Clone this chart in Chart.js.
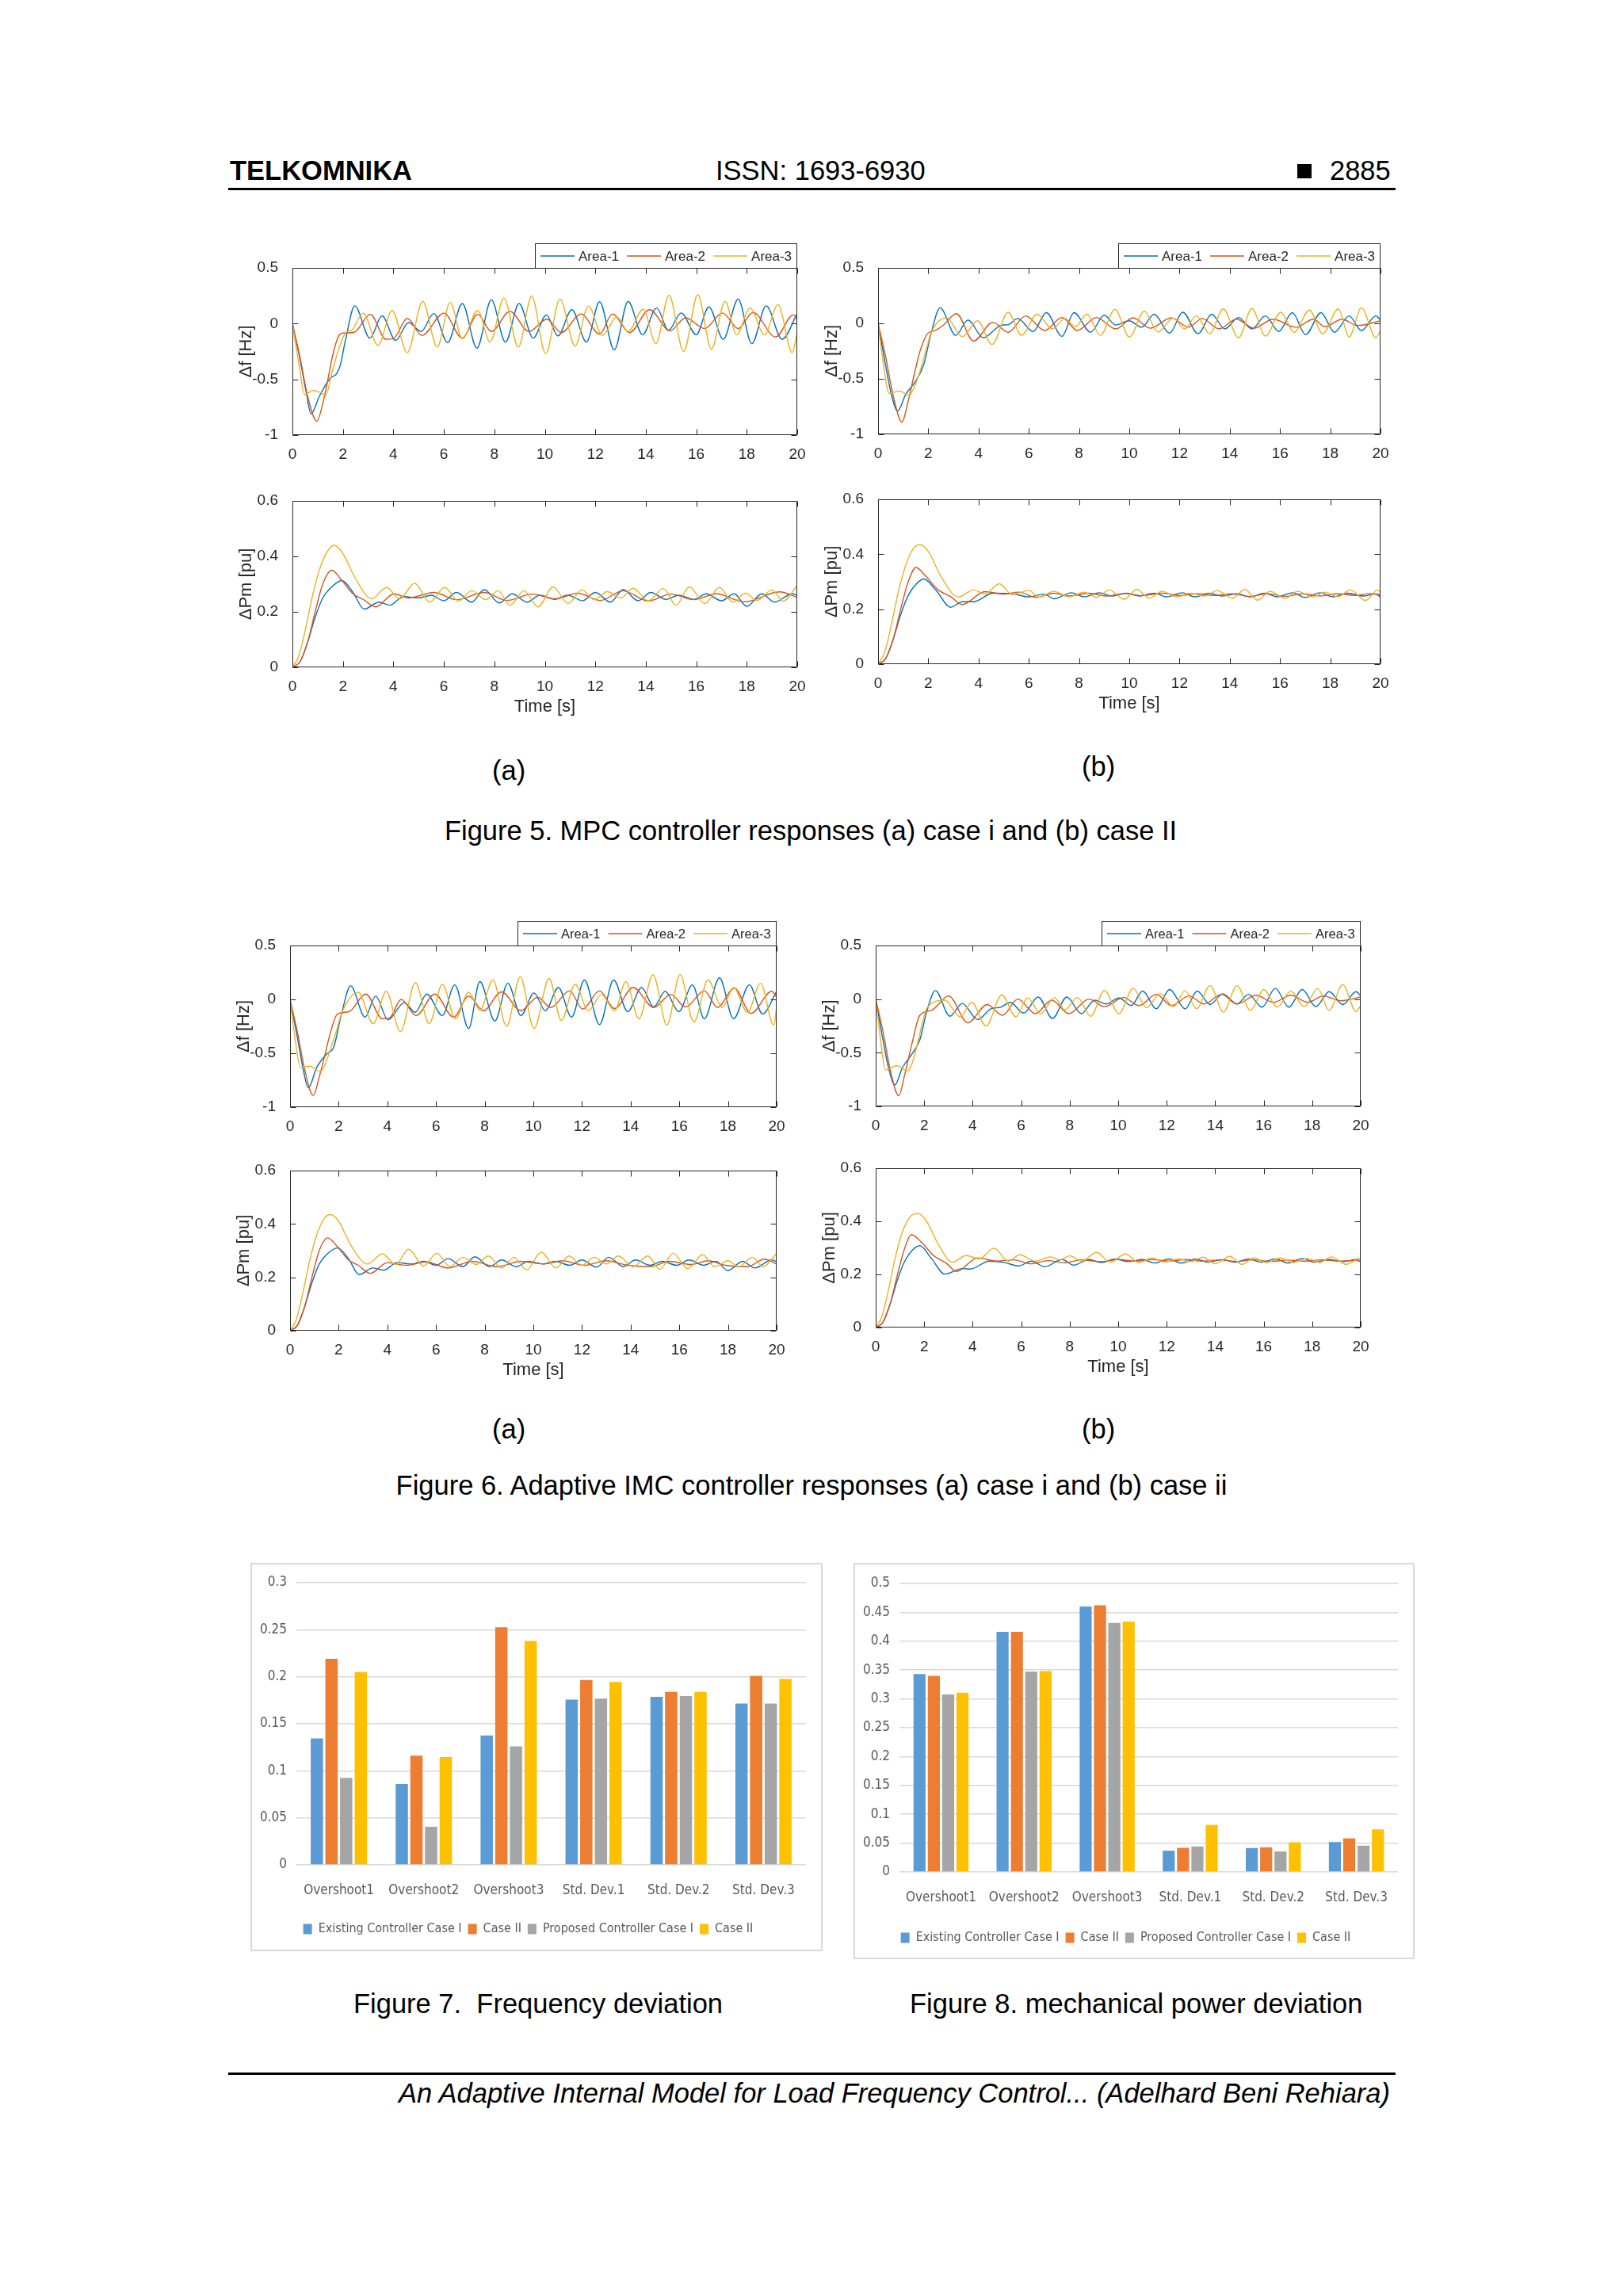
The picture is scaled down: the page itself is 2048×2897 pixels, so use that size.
<!DOCTYPE html>
<html>
<head>
<meta charset="utf-8">
<script src="https://cdn.jsdelivr.net/npm/chart.js@4.4.1/dist/chart.umd.min.js"></script>
<style>
  html, body { margin: 0; padding: 0; background: #fff; }
  #page { position: relative; width: 2048px; height: 2897px; background: #fff; overflow: hidden;
          font-family: 'Liberation Sans', Arial, Helvetica, sans-serif; color: #000; }
  .t { position: absolute; font-size: 34.5px; line-height: 1; white-space: pre; }
  .c { transform: translateX(-50%); }
  .rule { position: absolute; background: #000; }
  .frame { position: absolute; box-sizing: border-box; border: 2px solid #d9d9d9; }
</style>
</head>
<body>
<div id="page">
  <div class="t" style="left:290px;top:198px;font-weight:bold">TELKOMNIKA</div>
  <div class="t" style="left:903px;top:198px">ISSN: 1693-6930</div>
  <div class="rule" style="left:1637px;top:207px;width:18px;height:18px"></div>
  <div class="t" style="left:1678px;top:198px">2885</div>
  <div class="rule" style="left:288px;top:237px;width:1473px;height:3px"></div>

  <div class="t" style="left:621px;top:955px">(a)</div>
  <div class="t" style="left:1365px;top:950px">(b)</div>
  <div class="t c" style="left:1023px;top:1031px">Figure 5. MPC controller responses (a) case i and (b) case II</div>

  <div class="t" style="left:621px;top:1786px">(a)</div>
  <div class="t" style="left:1365px;top:1786px">(b)</div>
  <div class="t c" style="left:1024px;top:1857px">Figure 6. Adaptive IMC controller responses (a) case i and (b) case ii</div>

  <div class="t" style="left:446px;top:2511px">Figure 7.  Frequency deviation</div>
  <div class="t" style="left:1148px;top:2511px">Figure 8. mechanical power deviation</div>

  <div class="rule" style="left:288px;top:2615px;width:1473px;height:3px"></div>
  <div class="t" style="right:294px;top:2624px;font-style:italic">An Adaptive Internal Model for Load Frequency Control... (Adelhard Beni Rehiara)</div>
</div>
<script>
// ---- data: [time s, value] ----
const areaNames = ['Area-1', 'Area-2', 'Area-3'];

// Figure 5 (a) - MPC case i
const f5a_df_area1 = [[0,0],[0.3,-0.32],[0.55,-0.62],[0.74,-0.81],[1.07,-0.65],[1.5,-0.49],[1.75,-0.45],[1.9,-0.37],[2.1,-0.15],[2.47,0.16],[3.07,-0.13],[3.55,0.07],[4.09,-0.15],[4.6,0.01],[5.1,-0.07],[5.6,0.09],[6.15,-0.17],[6.73,0.18],[7.31,-0.22],[7.88,0.215],[8.44,-0.165],[8.98,0.18],[9.54,-0.13],[10.06,0.078],[10.52,-0.11],[11.07,0.125],[11.65,-0.165],[12.17,0.196],[12.75,-0.236],[13.3,0.2],[13.87,-0.1],[14.43,0.14],[14.9,-0.06],[15.4,0.096],[16.0,-0.1],[16.5,0.15],[17.07,-0.14],[17.66,0.22],[18.2,-0.18],[18.77,0.16],[19.4,-0.14],[20,0.09]];
const f5a_df_area2 = [[0,0],[0.3,-0.3],[0.6,-0.65],[0.97,-0.875],[1.2,-0.72],[1.45,-0.45],[1.6,-0.28],[1.83,-0.11],[2.0,-0.085],[2.44,-0.078],[3.09,0.083],[3.7,-0.14],[4.0,-0.135],[4.55,0.047],[5.13,-0.106],[6.0,0.094],[6.73,-0.13],[7.34,0.083],[7.88,-0.07],[8.62,0.11],[9.37,-0.07],[10.08,0.04],[10.65,-0.08],[11.44,0.087],[12.17,-0.094],[12.68,0.087],[13.36,-0.08],[14.15,0.125],[14.96,-0.064],[15.58,0.052],[16.33,-0.044],[17.04,0.096],[17.66,-0.044],[18.25,0.1],[19.14,-0.12],[19.85,0.08],[20,0.03]];
const f5a_df_area3 = [[0,0],[0.25,-0.35],[0.49,-0.637],[0.8,-0.6],[1.0,-0.61],[1.2,-0.63],[1.3,-0.65],[1.6,-0.41],[1.86,-0.21],[2.12,-0.08],[2.34,-0.06],[2.81,0.094],[3.39,-0.196],[3.95,0.118],[4.55,-0.26],[5.16,0.2],[5.74,-0.21],[6.25,0.19],[6.73,-0.134],[7.34,0.118],[7.83,-0.165],[8.38,0.229],[8.95,-0.21],[9.48,0.248],[10.03,-0.27],[10.6,0.22],[11.2,-0.2],[11.73,0.158],[12.28,-0.106],[12.85,0.059],[13.3,-0.07],[13.9,0.13],[14.4,-0.18],[14.92,0.255],[15.5,-0.25],[16.06,0.26],[16.6,-0.23],[17.14,0.2],[17.6,-0.1],[18.13,0.14],[18.7,-0.1],[19.24,0.17],[19.8,-0.26],[20,-0.08]];
const f5a_pm_area1 = [[0,0],[0.3,0.02],[0.6,0.09],[0.9,0.18],[1.2,0.25],[1.5,0.285],[1.96,0.313],[2.4,0.27],[2.84,0.21],[3.44,0.235],[3.85,0.224],[4.4,0.255],[5.0,0.25],[5.5,0.26],[6.0,0.24],[6.5,0.27],[7.1,0.235],[7.6,0.28],[8.2,0.232],[8.7,0.265],[9.3,0.235],[9.8,0.26],[10.4,0.245],[10.9,0.26],[11.5,0.24],[12.0,0.27],[12.6,0.235],[13.1,0.28],[13.7,0.24],[14.2,0.27],[14.8,0.245],[15.3,0.26],[15.9,0.245],[16.4,0.265],[17.0,0.24],[17.5,0.265],[18.0,0.22],[18.6,0.265],[19.1,0.235],[19.8,0.265],[20,0.26]];
const f5a_pm_area2 = [[0,0],[0.3,0.02],[0.6,0.09],[0.9,0.2],[1.2,0.3],[1.56,0.35],[1.9,0.32],[2.4,0.265],[2.8,0.245],[3.29,0.218],[4.03,0.265],[4.6,0.25],[5.6,0.27],[6.5,0.244],[7.6,0.27],[8.5,0.241],[9.5,0.264],[10.4,0.247],[11.3,0.267],[12.2,0.241],[13.1,0.276],[14.1,0.239],[15.0,0.264],[15.9,0.244],[16.8,0.265],[17.9,0.236],[19.3,0.272],[20,0.252]];
const f5a_pm_area3 = [[0,0],[0.25,0.04],[0.5,0.13],[0.8,0.26],[1.1,0.36],[1.4,0.42],[1.66,0.44],[2.0,0.41],[2.5,0.32],[3.14,0.247],[3.73,0.288],[4.25,0.247],[4.84,0.303],[5.44,0.235],[6.03,0.288],[6.58,0.239],[7.1,0.276],[7.66,0.244],[8.15,0.276],[8.62,0.224],[9.18,0.276],[9.73,0.218],[10.33,0.29],[10.92,0.23],[11.47,0.279],[11.96,0.244],[12.47,0.273],[13.0,0.25],[13.5,0.285],[14.1,0.24],[14.7,0.284],[15.2,0.224],[15.73,0.29],[16.33,0.23],[16.92,0.288],[17.44,0.235],[17.96,0.267],[18.4,0.241],[19.0,0.279],[19.44,0.239],[20,0.294]];

// Figure 5 (b) - MPC case II
const f5b_df_area1 = [[0,0],[0.3,-0.38],[0.55,-0.66],[0.78,-0.79],[1.1,-0.64],[1.5,-0.52],[1.82,-0.37],[2.1,-0.1],[2.47,0.14],[3.09,-0.108],[3.58,0.03],[4.19,-0.13],[4.87,-0.02],[5.2,-0.01],[5.56,0.044],[6.17,-0.073],[6.7,0.096],[7.32,-0.117],[7.8,0.096],[8.46,-0.08],[9.0,0.073],[9.46,-0.015],[9.99,0.023],[10.5,-0.035],[10.99,0.082],[11.6,-0.088],[12.13,0.1],[12.74,-0.094],[13.28,0.082],[13.8,-0.05],[14.35,0.053],[14.88,-0.05],[15.42,0.067],[15.95,-0.073],[16.49,0.096],[17.02,-0.102],[17.63,0.096],[18.17,-0.08],[18.75,0.067],[19.24,-0.064],[19.82,0.067],[20,0.03]];
const f5b_df_area2 = [[0,0],[0.3,-0.3],[0.6,-0.65],[0.95,-0.89],[1.2,-0.7],[1.45,-0.45],[1.67,-0.25],[1.97,-0.094],[2.28,-0.064],[2.58,-0.02],[3.12,0.088],[3.8,-0.16],[4.57,0.01],[5.18,-0.08],[5.87,0.067],[6.63,-0.064],[7.32,0.053],[7.93,-0.064],[8.69,0.053],[9.46,-0.05],[10.15,0.05],[10.83,-0.044],[11.67,0.05],[12.36,-0.035],[12.9,0.044],[13.58,-0.05],[14.27,0.038],[14.96,-0.044],[15.72,0.038],[16.64,-0.035],[17.33,0.038],[17.79,-0.03],[18.47,0.038],[19.08,-0.02],[20,0.023]];
const f5b_df_area3 = [[0,0],[0.2,-0.35],[0.44,-0.63],[0.86,-0.61],[1.24,-0.65],[1.45,-0.57],[1.67,-0.43],[1.9,-0.25],[2.12,-0.08],[2.73,0.05],[3.35,-0.12],[3.96,0.023],[4.54,-0.19],[5.18,0.1],[5.71,-0.108],[6.33,0.082],[6.94,-0.05],[7.44,0.044],[7.85,-0.03],[8.31,0.082],[8.85,-0.108],[9.43,0.126],[10.0,-0.123],[10.6,0.11],[11.14,-0.079],[11.75,0.047],[12.2,-0.05],[12.67,0.067],[13.2,-0.094],[13.74,0.13],[14.35,-0.13],[14.88,0.134],[15.42,-0.114],[16.03,0.1],[16.56,-0.08],[17.17,0.12],[17.7,-0.094],[18.32,0.13],[18.75,-0.123],[19.24,0.14],[19.82,-0.13],[20,-0.064]];
const f5b_pm_area1 = [[0,0],[0.3,0.02],[0.6,0.09],[0.9,0.18],[1.2,0.25],[1.5,0.29],[1.82,0.31],[2.3,0.27],[2.89,0.207],[3.35,0.227],[3.8,0.227],[4.57,0.258],[5.4,0.255],[6.0,0.245],[6.6,0.255],[7.0,0.238],[7.7,0.26],[8.2,0.245],[8.8,0.26],[9.3,0.248],[9.9,0.258],[10.4,0.248],[11.0,0.258],[11.5,0.245],[12.1,0.26],[12.6,0.245],[13.2,0.258],[13.7,0.248],[14.3,0.256],[14.8,0.245],[15.4,0.258],[15.9,0.245],[16.5,0.26],[17.0,0.243],[17.6,0.26],[18.1,0.245],[18.7,0.258],[19.3,0.248],[19.8,0.255],[20,0.245]];
const f5b_pm_area2 = [[0,0],[0.3,0.02],[0.6,0.09],[0.9,0.2],[1.2,0.3],[1.51,0.352],[1.9,0.32],[2.4,0.27],[2.9,0.245],[3.35,0.217],[4.26,0.264],[5.0,0.255],[5.6,0.262],[6.3,0.243],[7.0,0.258],[7.6,0.248],[8.4,0.258],[9.1,0.248],[9.8,0.257],[10.5,0.25],[11.3,0.258],[12.0,0.25],[12.7,0.256],[13.4,0.25],[14.1,0.256],[14.8,0.247],[15.5,0.256],[16.2,0.247],[16.9,0.256],[17.6,0.248],[18.3,0.256],[19.0,0.25],[19.6,0.257],[20,0.253]];
const f5b_pm_area3 = [[0,0],[0.25,0.04],[0.5,0.13],[0.8,0.26],[1.1,0.36],[1.4,0.42],[1.67,0.435],[2.0,0.41],[2.5,0.32],[3.19,0.244],[3.8,0.27],[4.26,0.256],[4.83,0.293],[5.33,0.254],[6.02,0.268],[6.4,0.244],[7.0,0.265],[7.6,0.245],[8.2,0.262],[8.7,0.243],[9.2,0.27],[9.8,0.236],[10.3,0.272],[10.8,0.24],[11.3,0.265],[11.9,0.245],[12.4,0.258],[13.0,0.248],[13.5,0.268],[14.1,0.24],[14.6,0.272],[15.1,0.233],[15.6,0.265],[16.2,0.24],[16.7,0.265],[17.3,0.245],[17.8,0.262],[18.3,0.245],[18.8,0.27],[19.4,0.232],[19.9,0.27],[20,0.262]];

// Figure 6 (a) - adaptive IMC case i
const f6a_df_area1 = [[0,0],[0.3,-0.35],[0.55,-0.66],[0.75,-0.82],[1.1,-0.63],[1.49,-0.51],[1.8,-0.44],[2.1,-0.15],[2.49,0.126],[3.08,-0.165],[3.52,0.03],[4.03,-0.19],[4.69,-0.03],[5.15,-0.12],[5.62,0.05],[6.26,-0.15],[6.77,0.135],[7.34,-0.27],[7.8,0.165],[8.42,-0.2],[8.95,0.15],[9.49,-0.15],[10.03,0.06],[10.49,-0.105],[11.03,0.11],[11.57,-0.165],[12.1,0.18],[12.72,-0.234],[13.3,0.18],[13.88,-0.114],[14.45,0.11],[14.95,-0.07],[15.42,0.075],[15.98,-0.114],[16.54,0.135],[17.03,-0.18],[17.65,0.2],[18.23,-0.18],[18.88,0.135],[19.42,-0.135],[20,0.075]];
const f6a_df_area2 = [[0,0],[0.3,-0.3],[0.6,-0.65],[0.95,-0.89],[1.2,-0.72],[1.45,-0.5],[1.65,-0.315],[1.95,-0.135],[2.42,-0.114],[3.11,0.05],[3.8,-0.18],[4.1,-0.17],[4.57,0.0],[5.18,-0.15],[5.95,0.05],[6.72,-0.165],[7.34,0.03],[7.95,-0.105],[8.69,0.07],[9.49,-0.105],[10.18,0.02],[10.72,-0.075],[11.49,0.08],[12.03,-0.09],[12.72,0.08],[13.34,-0.085],[14.1,0.11],[14.95,-0.075],[15.65,0.045],[16.26,-0.07],[17.03,0.08],[17.57,-0.075],[18.26,0.105],[18.95,-0.13],[19.8,0.075],[20,0.02]];
const f6a_df_area3 = [[0,0],[0.2,-0.35],[0.42,-0.63],[0.8,-0.62],[1.26,-0.67],[1.45,-0.6],[1.65,-0.47],[1.9,-0.3],[2.11,-0.135],[2.8,0.066],[3.42,-0.225],[3.95,0.075],[4.54,-0.3],[5.15,0.156],[5.72,-0.225],[6.26,0.14],[6.8,-0.18],[7.34,0.066],[7.8,-0.1],[8.34,0.18],[8.9,-0.25],[9.46,0.21],[10.03,-0.27],[10.65,0.195],[11.15,-0.195],[11.72,0.14],[12.26,-0.105],[12.8,0.045],[13.34,-0.105],[13.8,0.165],[14.34,-0.18],[14.92,0.23],[15.49,-0.24],[16.03,0.23],[16.6,-0.21],[17.18,0.18],[17.77,-0.075],[18.23,0.11],[18.8,-0.12],[19.34,0.15],[19.88,-0.24],[20,-0.075]];
const f6a_pm_area1 = [[0,0],[0.3,0.02],[0.6,0.09],[0.9,0.18],[1.2,0.25],[1.5,0.285],[1.95,0.31],[2.4,0.27],[2.84,0.21],[3.4,0.235],[3.85,0.227],[4.4,0.255],[5.0,0.25],[5.5,0.26],[6.0,0.245],[6.5,0.27],[7.1,0.24],[7.6,0.277],[8.2,0.24],[8.7,0.265],[9.3,0.24],[9.8,0.26],[10.4,0.25],[10.9,0.26],[11.5,0.245],[12.0,0.265],[12.6,0.238],[13.1,0.275],[13.7,0.24],[14.2,0.265],[14.8,0.245],[15.3,0.26],[15.9,0.245],[16.4,0.265],[17.0,0.245],[17.5,0.26],[18.0,0.225],[18.6,0.26],[19.1,0.235],[19.8,0.265],[20,0.258]];
const f6a_pm_area2 = [[0,0],[0.3,0.02],[0.6,0.09],[0.9,0.2],[1.2,0.3],[1.55,0.348],[1.9,0.32],[2.4,0.265],[2.8,0.245],[3.3,0.215],[4.0,0.255],[4.8,0.245],[5.6,0.258],[6.5,0.235],[7.5,0.26],[8.5,0.24],[9.5,0.26],[10.4,0.25],[11.2,0.262],[12.1,0.245],[13.0,0.262],[13.9,0.245],[14.8,0.24],[15.6,0.26],[16.5,0.248],[17.2,0.262],[17.9,0.245],[18.8,0.24],[19.5,0.268],[20,0.25]];
const f6a_pm_area3 = [[0,0],[0.25,0.04],[0.5,0.13],[0.8,0.26],[1.1,0.36],[1.4,0.42],[1.65,0.435],[2.0,0.41],[2.5,0.32],[3.18,0.25],[3.8,0.288],[4.34,0.248],[4.88,0.305],[5.49,0.242],[6.03,0.29],[6.58,0.24],[7.1,0.275],[7.66,0.248],[8.15,0.28],[8.7,0.235],[9.2,0.275],[9.73,0.228],[10.33,0.295],[10.92,0.235],[11.47,0.28],[12.0,0.245],[12.5,0.275],[13.0,0.25],[13.5,0.28],[14.1,0.24],[14.7,0.28],[15.2,0.23],[15.75,0.29],[16.35,0.232],[16.95,0.285],[17.45,0.24],[18.0,0.262],[18.45,0.24],[19.0,0.275],[19.45,0.24],[20,0.29]];

// Figure 6 (b) - adaptive IMC case ii
const f6b_df_area1 = [[0,0],[0.3,-0.38],[0.55,-0.66],[0.79,-0.8],[1.1,-0.64],[1.5,-0.51],[1.82,-0.38],[2.1,-0.12],[2.46,0.08],[3.06,-0.16],[3.57,-0.04],[4.2,-0.19],[4.75,-0.09],[5.15,-0.075],[5.55,-0.03],[6.1,-0.13],[6.7,0.02],[7.29,-0.18],[7.88,0.02],[8.48,-0.135],[9.03,-0.01],[9.5,-0.045],[10.03,0.01],[10.54,-0.06],[11.01,0.075],[11.57,-0.09],[12.12,0.09],[12.76,-0.09],[13.26,0.075],[13.79,-0.05],[14.31,0.05],[14.9,-0.045],[15.37,0.045],[15.93,-0.075],[16.48,0.1],[17.04,-0.075],[17.59,0.09],[18.15,-0.07],[18.7,0.07],[19.26,-0.05],[19.81,0.07],[20,0.03]];
const f6b_df_area2 = [[0,0],[0.3,-0.3],[0.6,-0.66],[0.95,-0.9],[1.2,-0.7],[1.5,-0.41],[1.82,-0.15],[2.3,-0.105],[3.01,0.03],[3.8,-0.22],[4.6,-0.05],[5.23,-0.15],[5.86,0.0],[6.58,-0.135],[7.26,-0.01],[7.97,-0.135],[8.8,0.0],[9.43,-0.07],[10.22,0.015],[10.86,-0.06],[11.57,0.045],[12.2,-0.06],[12.92,0.03],[13.55,-0.045],[14.26,0.045],[14.9,-0.045],[15.69,0.036],[16.4,-0.03],[17.12,0.036],[17.83,-0.03],[18.46,0.03],[19.18,-0.015],[20,0.02]];
const f6b_df_area3 = [[0,0],[0.2,-0.38],[0.4,-0.66],[0.87,-0.62],[1.32,-0.67],[1.5,-0.6],[1.74,-0.4],[1.95,-0.2],[2.14,-0.075],[2.85,-0.01],[3.49,-0.165],[3.96,-0.03],[4.55,-0.25],[5.2,0.04],[5.78,-0.165],[6.26,0.01],[6.81,-0.135],[7.37,0.015],[7.8,-0.1],[8.32,0.015],[8.87,-0.16],[9.43,0.08],[10.03,-0.135],[10.62,0.1],[11.17,-0.08],[11.73,0.05],[12.28,-0.07],[12.76,0.08],[13.23,-0.09],[13.79,0.126],[14.34,-0.12],[14.9,0.126],[15.45,-0.105],[16.0,0.09],[16.56,-0.075],[17.12,0.075],[17.67,-0.07],[18.23,0.1],[18.7,-0.105],[19.26,0.135],[19.81,-0.115],[20,-0.06]];
const f6b_pm_area1 = [[0,0],[0.3,0.02],[0.6,0.09],[0.9,0.18],[1.2,0.25],[1.5,0.29],[1.82,0.308],[2.3,0.26],[2.85,0.201],[3.57,0.222],[3.9,0.22],[4.68,0.25],[5.3,0.245],[5.9,0.232],[6.42,0.25],[6.97,0.229],[7.69,0.256],[8.16,0.235],[8.8,0.256],[9.3,0.245],[9.9,0.258],[10.4,0.248],[11.0,0.256],[11.5,0.243],[12.1,0.258],[12.6,0.243],[13.2,0.258],[13.7,0.246],[14.3,0.256],[14.8,0.246],[15.4,0.258],[15.9,0.246],[16.5,0.258],[17.0,0.243],[17.6,0.26],[18.1,0.246],[18.7,0.256],[19.3,0.248],[19.8,0.256],[20,0.246]];
const f6b_pm_area2 = [[0,0],[0.3,0.02],[0.6,0.09],[0.9,0.2],[1.2,0.3],[1.47,0.35],[1.9,0.32],[2.4,0.27],[2.9,0.243],[3.33,0.211],[4.2,0.262],[5.0,0.25],[5.7,0.255],[6.4,0.24],[7.1,0.252],[7.8,0.244],[8.5,0.255],[9.3,0.248],[10.0,0.256],[10.7,0.25],[11.4,0.256],[12.1,0.25],[12.8,0.256],[13.5,0.25],[14.2,0.255],[14.9,0.249],[15.6,0.255],[16.3,0.249],[17.0,0.254],[17.7,0.25],[18.4,0.255],[19.1,0.25],[20,0.254]];
const f6b_pm_area3 = [[0,0],[0.25,0.04],[0.5,0.13],[0.8,0.26],[1.1,0.36],[1.45,0.42],[1.74,0.43],[2.1,0.4],[2.6,0.31],[3.17,0.246],[3.72,0.271],[4.28,0.259],[4.88,0.299],[5.47,0.25],[5.94,0.274],[6.58,0.25],[7.2,0.266],[7.6,0.255],[8.0,0.27],[8.5,0.25],[9.11,0.283],[9.67,0.246],[10.3,0.277],[10.86,0.244],[11.4,0.262],[11.9,0.246],[12.5,0.258],[13.0,0.248],[13.5,0.265],[14.0,0.24],[14.6,0.268],[15.1,0.238],[15.6,0.262],[16.1,0.245],[16.7,0.262],[17.2,0.245],[17.8,0.26],[18.3,0.245],[18.8,0.266],[19.4,0.238],[19.9,0.26],[20,0.262]];

// Figures 7 and 8 - bar charts
const metricCategories = ['Overshoot1', 'Overshoot2', 'Overshoot3', 'Std. Dev.1', 'Std. Dev.2', 'Std. Dev.3'];
const seriesLabels = ['Existing Controller Case I', 'Case II', 'Proposed Controller Case I', 'Case II'];
const freqExistingI  = [0.1345, 0.086, 0.1376, 0.1758, 0.1786, 0.1714];
const freqExistingII = [0.219, 0.1161, 0.2526, 0.1965, 0.1839, 0.201];
const freqProposedI  = [0.0924, 0.0405, 0.1259, 0.1767, 0.1795, 0.1714];
const freqProposedII = [0.2049, 0.1147, 0.238, 0.1945, 0.1839, 0.1976];
const powerExistingI  = [0.3432, 0.4161, 0.4603, 0.0369, 0.0415, 0.052];
const powerExistingII = [0.34, 0.4161, 0.4622, 0.0419, 0.0428, 0.0583];
const powerProposedI  = [0.3077, 0.3473, 0.4316, 0.0442, 0.0356, 0.0456];
const powerProposedII = [0.3108, 0.3482, 0.4339, 0.0816, 0.0515, 0.0738];

// ---- styling ----
const FONT = "'Liberation Sans', Arial, Helvetica, sans-serif";
const NARROW = "'Liberation Sans Narrow', 'Arial Narrow', 'DejaVu Sans Condensed', sans-serif";
const INK = '#262626';
const areaColors = ['#0072BD', '#D95319', '#EDB120'];
const barColors = ['#5B9BD5', '#ED7D31', '#A5A5A5', '#FFC000'];
const trimNum = v => String(Number(Number(v).toFixed(2)));

// matlab style box with ticks pointing inward on all four sides
const matlabBox = {
  id: 'matlabBox',
  afterDatasetsDraw(chart) {
    const {ctx, chartArea: a, scales: {x, y}} = chart;
    const tl = 7;
    const L = Math.round(a.left) + 0.5, R = Math.round(a.right) - 0.5;
    const T = Math.round(a.top) + 0.5, B = Math.round(a.bottom) - 0.5;
    ctx.save();
    ctx.strokeStyle = INK;
    ctx.lineWidth = 1;
    ctx.beginPath();
    ctx.rect(L, T, R - L, B - T);
    x.ticks.forEach(t => {
      const px = Math.round(x.getPixelForValue(t.value)) + 0.5;
      ctx.moveTo(px, B); ctx.lineTo(px, B - tl);
      ctx.moveTo(px, T); ctx.lineTo(px, T + tl);
    });
    y.ticks.forEach(t => {
      const py = Math.round(y.getPixelForValue(t.value)) + 0.5;
      ctx.moveTo(L, py); ctx.lineTo(L + tl, py);
      ctx.moveTo(R, py); ctx.lineTo(R - tl, py);
    });
    ctx.stroke();
    ctx.restore();
  }
};

// legend box sitting on top of the axes, right aligned
const matlabLegend = {
  id: 'matlabLegend',
  afterDraw(chart, args, opts) {
    if (!opts.show) return;
    const {ctx, chartArea: a} = chart;
    const fs = opts.fontSize, h = opts.height;
    const lineLen = 43, gap = 5, itemGap = 10, pad = 7;
    ctx.save();
    ctx.font = fs + 'px ' + FONT;
    const items = chart.data.datasets.map(d => ({label: d.label, color: d.borderColor, w: ctx.measureText(d.label).width}));
    const w = Math.round(pad * 2 + items.reduce((s, it) => s + lineLen + gap + it.w, 0) + itemGap * (items.length - 1));
    const x0 = Math.round(a.right) - w, y0 = Math.round(a.top) - h;
    ctx.fillStyle = '#fff';
    ctx.fillRect(x0, y0, w, h);
    ctx.strokeStyle = INK;
    ctx.lineWidth = 1;
    ctx.strokeRect(x0 + 0.5, y0 + 0.5, w - 1, h);
    let x = x0 + pad;
    const cy = y0 + h / 2 + 0.5;
    items.forEach(it => {
      ctx.strokeStyle = it.color;
      ctx.lineWidth = 1.4;
      ctx.beginPath(); ctx.moveTo(x, cy); ctx.lineTo(x + lineLen, cy); ctx.stroke();
      x += lineLen + gap;
      ctx.fillStyle = INK;
      ctx.textBaseline = 'middle';
      ctx.fillText(it.label, x, cy + 1);
      x += it.w + itemGap;
    });
    ctx.restore();
  }
};

function addCanvas(left, top, w, h) {
  const c = document.createElement('canvas');
  c.width = w; c.height = h;
  c.style.cssText = `position:absolute;left:${left}px;top:${top}px;width:${w}px;height:${h}px`;
  document.getElementById('page').appendChild(c);
  return c;
}

function drawResponse(box, series, yMin, yMax, yStep, yTitle, legendFont, withTime) {
  const padTop = legendFont ? 40 : 30;
  const yW = 75, padR = 25;
  const xH = withTime ? 66 : 38;
  const c = addCanvas(box.L - yW, box.T - padTop, box.R - box.L + yW + padR, box.B - box.T + padTop + xH);
  new Chart(c, {
    type: 'line',
    data: {
      datasets: series.map((pts, i) => ({
        label: areaNames[i],
        data: pts.map(([x, y]) => ({x, y})),
        borderColor: areaColors[i],
        borderWidth: 1.4,
        pointRadius: 0,
        cubicInterpolationMode: 'monotone',
        fill: false,
        order: 3 - i
      }))
    },
    options: {
      responsive: false,
      animation: false,
      devicePixelRatio: 1,
      layout: {padding: {top: padTop, right: padR, left: 0, bottom: 0}},
      plugins: {
        legend: {display: false},
        tooltip: {enabled: false},
        matlabLegend: {show: !!legendFont, fontSize: legendFont, height: 31}
      },
      scales: {
        x: {
          type: 'linear', min: 0, max: 20,
          grid: {display: false}, border: {display: false},
          ticks: {stepSize: 2, autoSkip: false, maxRotation: 0, padding: 5, color: INK, font: {family: FONT, size: 19}},
          title: {display: withTime, text: 'Time [s]', color: INK, font: {family: FONT, size: 22}, padding: {top: 0, bottom: 3}},
          afterFit: s => { s.height = xH; }
        },
        y: {
          min: yMin, max: yMax,
          grid: {display: false}, border: {display: false},
          ticks: {stepSize: yStep, padding: 10, color: INK, font: {family: FONT, size: 19}, callback: trimNum},
          title: {display: true, text: yTitle, color: INK, font: {family: FONT, size: 22}, padding: {top: 4, bottom: 0}},
          afterFit: s => { s.width = yW; }
        }
      }
    },
    plugins: [matlabBox, matlabLegend]
  });
}

function drawBars(left, top, w, h, values, yMax, area) {
  const frame = document.createElement('div');
  frame.className = 'frame';
  frame.style.cssText = `left:${left}px;top:${top}px;width:${w}px;height:${h}px`;
  document.getElementById('page').appendChild(frame);
  const c = addCanvas(left, top, w, h);
  new Chart(c, {
    type: 'bar',
    data: {
      labels: metricCategories,
      datasets: values.map((v, i) => ({
        label: seriesLabels[i], data: v, backgroundColor: barColors[i],
        categoryPercentage: 0.69, barPercentage: 0.84
      }))
    },
    options: {
      responsive: false,
      animation: false,
      devicePixelRatio: 1,
      layout: {padding: {top: area.top, right: area.right, bottom: area.bottom, left: 0}},
      plugins: {
        legend: {position: 'bottom', labels: {boxWidth: 11, boxHeight: 13, padding: 8, color: '#595959', font: {family: NARROW, size: 16}}},
        tooltip: {enabled: false}
      },
      scales: {
        x: {
          grid: {display: false}, border: {display: false},
          ticks: {color: '#595959', font: {family: NARROW, size: 17}, padding: 14, maxRotation: 0, autoSkip: false},
          afterFit: s => { s.height = area.xH; }
        },
        y: {
          min: 0, max: yMax,
          ticks: {stepSize: 0.05, color: '#595959', font: {family: NARROW, size: 17}, padding: 12, callback: trimNum},
          grid: {color: '#d9d9d9', lineWidth: 1.5, drawTicks: false},
          border: {display: false},
          afterFit: s => { s.width = 58; }
        }
      }
    }
  });
}

// Figure 5
drawResponse({L: 369, R: 1006, T: 338, B: 549}, [f5a_df_area1, f5a_df_area2, f5a_df_area3], -1, 0.5, 0.5, 'Δf [Hz]', 17, false);
drawResponse({L: 369, R: 1006, T: 632, B: 842}, [f5a_pm_area1, f5a_pm_area2, f5a_pm_area3], 0, 0.6, 0.2, 'ΔPm [pu]', 0, true);
drawResponse({L: 1108, R: 1742, T: 338, B: 548}, [f5b_df_area1, f5b_df_area2, f5b_df_area3], -1, 0.5, 0.5, 'Δf [Hz]', 17, false);
drawResponse({L: 1108, R: 1742, T: 630, B: 838}, [f5b_pm_area1, f5b_pm_area2, f5b_pm_area3], 0, 0.6, 0.2, 'ΔPm [pu]', 0, true);

// Figure 6
drawResponse({L: 366, R: 980, T: 1193, B: 1397}, [f6a_df_area1, f6a_df_area2, f6a_df_area3], -1, 0.5, 0.5, 'Δf [Hz]', 16.5, false);
drawResponse({L: 366, R: 980, T: 1477, B: 1679}, [f6a_pm_area1, f6a_pm_area2, f6a_pm_area3], 0, 0.6, 0.2, 'ΔPm [pu]', 0, true);
drawResponse({L: 1105, R: 1717, T: 1193, B: 1396}, [f6b_df_area1, f6b_df_area2, f6b_df_area3], -1, 0.5, 0.5, 'Δf [Hz]', 16.5, false);
drawResponse({L: 1105, R: 1717, T: 1474, B: 1675}, [f6b_pm_area1, f6b_pm_area2, f6b_pm_area3], 0, 0.6, 0.2, 'ΔPm [pu]', 0, true);

// Figures 7 and 8
drawBars(316, 1972, 722, 490, [freqExistingI, freqExistingII, freqProposedI, freqProposedII], 0.3,
         {top: 25, right: 21, bottom: 10, xH: 65});
drawBars(1077, 1972, 708, 500, [powerExistingI, powerExistingII, powerProposedI, powerProposedII], 0.5,
         {top: 26, right: 21, bottom: 9, xH: 67});
</script>
</body>
</html>
